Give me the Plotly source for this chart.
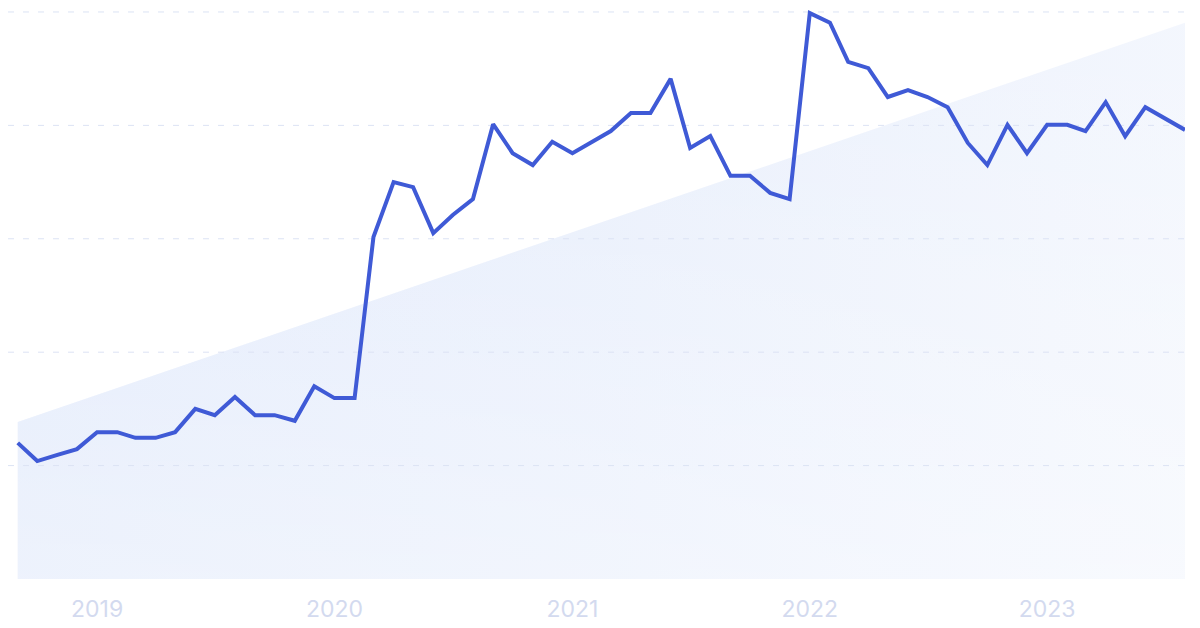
import pandas as pd
import plotly.graph_objects as go

# Monthly values, Sep 2018 - Aug 2023 (relative index)
months = pd.date_range("2018-09-01", "2023-08-01", freq="MS")
values = [24.0, 20.8, 21.9, 22.9, 25.9, 25.9, 24.9, 24.9, 25.9, 30.0,
          28.9, 32.1, 28.9, 28.9, 27.9, 34.0, 31.9, 31.9, 60.3, 70.0,
          69.1, 61.0, 64.2, 67.0, 80.2, 75.1, 73.0, 77.1, 75.1, 77.1,
          79.0, 82.2, 82.2, 88.2, 76.0, 78.1, 71.1, 71.1, 68.1, 67.0,
          99.8, 98.1, 91.2, 90.1, 85.0, 86.2, 85.0, 83.2, 76.9, 73.0,
          80.1, 75.1, 80.1, 80.1, 79.0, 84.1, 78.1, 83.2, 81.3, 79.2]

# Trend band: start and end value
trend_x = [months[0], months[-1]]
trend_y = [27.7, 98.1]

year_ticks = ["2019-01-01", "2020-01-01", "2021-01-01", "2022-01-01", "2023-01-01"]
year_labels = ["2019", "2020", "2021", "2022", "2023"]
grid_vals = [20, 40, 60, 80, 100]

x_start = pd.Timestamp("2018-08-17")
x_end = pd.Timestamp("2023-08-01")

fig = go.Figure()

# light blue trend area, fading to the right (semi-transparent so the grid shows)
fig.add_trace(go.Scatter(
    x=trend_x, y=trend_y, mode="lines", line=dict(width=0),
    fill="tozeroy",
    fillgradient=dict(type="horizontal",
                      colorscale=[[0, "rgba(66,120,230,0.155)"],
                                  [0.5, "rgba(66,120,230,0.115)"],
                                  [1, "rgba(66,120,230,0.062)"]]),
    hoverinfo="skip", showlegend=False))

# whitening towards the bottom
fig.add_trace(go.Scatter(
    x=trend_x, y=trend_y, mode="lines", line=dict(width=0),
    fill="tozeroy",
    fillgradient=dict(type="vertical",
                      colorscale=[[0, "rgba(255,255,255,0.4)"], [1, "rgba(255,255,255,0)"]]),
    hoverinfo="skip", showlegend=False))

# dashed grid lines, drawn over the band but under the series
gx, gy = [], []
for g in grid_vals:
    gx += [x_start, months[-1], None]
    gy += [g, g, None]
fig.add_trace(go.Scatter(
    x=gx, y=gy, mode="lines",
    line=dict(color="#DCE3F4", width=1, dash="6px,9px"),
    hoverinfo="skip", showlegend=False))

fig.add_trace(go.Scatter(
    x=months, y=values, mode="lines",
    line=dict(color="#3F5AD6", width=4),
    cliponaxis=False, showlegend=False))

fig.update_layout(
    width=1200, height=628,
    margin=dict(l=0, r=23, t=0, b=57),
    paper_bgcolor="white", plot_bgcolor="white",
    font=dict(family="Inter", color="#D3DAEF", size=23),
    xaxis=dict(range=[x_start, x_end], tickvals=year_ticks, ticktext=year_labels,
               showgrid=False, zeroline=False, showline=False, ticks="", ticklabelstandoff=14),
    yaxis=dict(range=[0, 100.7], showticklabels=False, showgrid=False,
               zeroline=False, showline=False),
)

fig.write_html("out.html")
